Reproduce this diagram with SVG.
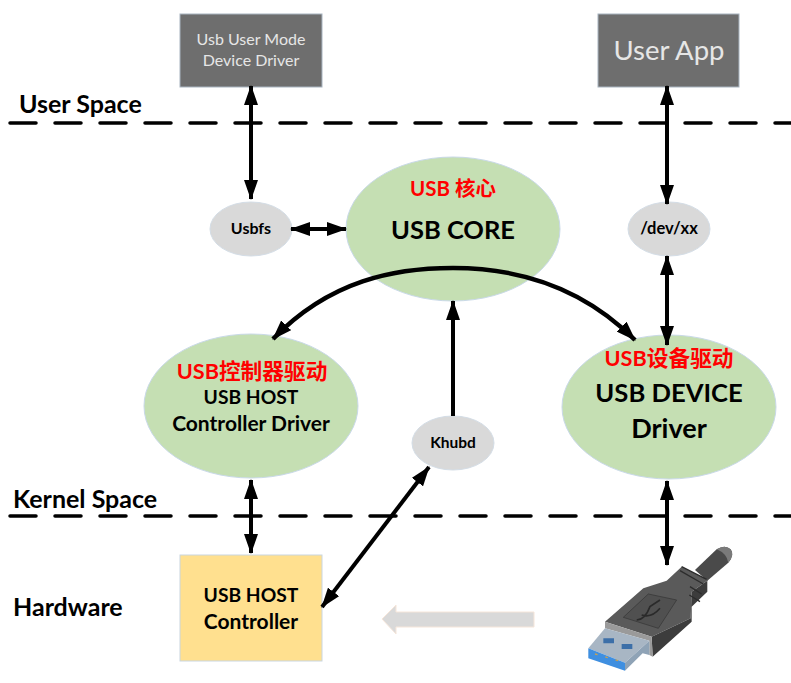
<svg xmlns="http://www.w3.org/2000/svg" width="791" height="683" viewBox="0 0 791 683">
<style>
text{font-family:Lato,"Liberation Sans","Noto Sans CJK SC",sans-serif;font-weight:700;text-anchor:middle;fill:#000}
.green{fill:#c5dfb3;stroke:#c9d9e8;stroke-width:1}
.grey{fill:#d9d9d9;stroke:#d4dde6;stroke-width:1}
.dark{fill:#6e6e6e;stroke:#a8b4c0;stroke-width:1}
.dash{fill:none;stroke:#000;stroke-width:3.5;stroke-linecap:round;stroke-dasharray:26 19}
.con{fill:none;stroke:#000;stroke-width:4;marker-end:url(#ah);marker-start:url(#ah)}
.one{fill:none;stroke:#000;stroke-width:4;marker-end:url(#ah)}
.red{fill:#f00;font-family:Lato,"Noto Sans CJK SC",sans-serif}
.side{font-size:25px;text-anchor:start}
.wht{fill:#e6e6e6;font-weight:400}
</style>
<defs>
<marker id="ah" markerUnits="userSpaceOnUse" markerWidth="20" markerHeight="14" refX="19" refY="7" orient="auto-start-reverse"><path d="M0 0L20 7L0 14Z" fill="#000"/></marker>
</defs>
<g id="user-mode"><rect class="dark" x="180" y="14" width="142" height="73"/><text class="wht" x="251" y="45" font-size="16">Usb User Mode</text><text class="wht" x="251" y="66" font-size="16">Device Driver</text></g>
<g id="user-app"><rect class="dark" x="598" y="14" width="141" height="73"/><text class="wht" x="669" y="60" font-size="27.5">User App</text></g>
<g id="label-user"><text class="side" x="19" y="113">User Space</text></g>
<g id="label-kernel"><text class="side" x="13" y="508">Kernel Space</text></g>
<g id="label-hw"><text class="side" x="13" y="616">Hardware</text></g>
<g id="usbfs"><ellipse class="grey" cx="251" cy="229" rx="41" ry="27"/><text x="251" y="234" font-size="16">Usbfs</text></g>
<g id="devxx"><ellipse class="grey" cx="669" cy="229" rx="41" ry="27"/><text x="669" y="234" font-size="16.5">/dev/xx</text></g>
<g id="core"><ellipse class="green" cx="453" cy="229" rx="107" ry="72"/><text class="red" x="453" y="196" font-size="20.5">USB 核心</text><text x="453" y="239" font-size="25.5">USB CORE</text></g>
<g id="host-driver"><ellipse class="green" cx="251" cy="406" rx="107" ry="72"/><text class="red" x="252" y="379" font-size="21.7">USB控制器驱动</text><text x="251" y="404" font-size="19.3">USB HOST</text><text x="251" y="431" font-size="21">Controller Driver</text></g>
<g id="device-driver"><ellipse class="green" cx="669" cy="407" rx="107" ry="72"/><text class="red" x="669" y="366" font-size="21.7">USB设备驱动</text><text x="669" y="402" font-size="25.6">USB DEVICE</text><text x="669" y="438" font-size="27">Driver</text></g>
<g id="khubd"><ellipse class="grey" cx="453" cy="443" rx="41" ry="27"/><text x="453" y="448" font-size="15.5">Khubd</text></g>
<g id="host-controller"><rect x="180" y="555" width="142" height="106" fill="#ffe08f" stroke="#c9d6e0"/><text x="251" y="602" font-size="19.3">USB HOST</text><text x="251" y="629" font-size="21">Controller</text></g>
<g id="flow-arrow"><path d="M534 612V627H396V634L382 619L396 605V612Z" fill="#d9d9d9" stroke="#f6e6da"/></g>
<g id="plug" transform="translate(570 520) scale(.3333)">
<path d="M375 150L440 88Q465 72 482 88Q495 105 475 128L412 182Z" fill="#4a4a4a"/>
<path d="M440 88Q465 72 482 88Q495 105 475 128Q470 100 440 88Z" fill="#7a7a7a"/>
<path d="M105 305L220 205L290 182L335 140L415 180L365 215L362 295L245 350Z" fill="#5a5a5a"/>
<path d="M245 350L362 295L365 215L412 182V215L365 260V305L248 410Z" fill="#3c3c3c"/>
<path d="M105 305L245 350L248 410L238 405V362L105 325Z" fill="#9a9a9a"/>
<path d="M335 140L410 178M330 152L400 192M360 200L395 222M358 225L390 245" stroke="#2c2c2c" stroke-width="4" fill="none"/>
<path d="M235 222L320 240L265 325L160 292Z" fill="#505050" stroke="#333" stroke-width="2"/>
<path d="M200 300Q225 300 240 260L270 240M215 285Q245 295 270 265" fill="none" stroke="#2a2a2a" stroke-width="5"/>
<path d="M55 385L105 325L238 362L165 428Z" fill="#a8b6c4"/>
<path d="M238 362V405L218 400L165 452L165 428Z" fill="#8fa3b6"/>
<path d="M55 385L165 428V452L55 415Z" fill="#3f8fe0"/>
<path d="M100 355h32v15h-32zM155 372h32v15h-32z" fill="#3c6fa8"/>
<path d="M75 402L155 425" stroke="#c9a050" stroke-width="4" stroke-dasharray="8 24" fill="none"/>
</g>
<g id="connectors">
<path class="dash" d="M10 123H791"/>
<path class="dash" d="M10 516H791"/>
<path class="con" d="M251 86V199"/>
<path class="con" d="M291 229H346"/>
<path class="con" d="M667 86V204"/>
<path class="con" d="M667 256V345"/>
<path class="con" d="M251 480V553"/>
<path class="con" d="M667 481V565"/>
<path class="one" d="M453 416V301"/>
<path class="con" style="stroke-width:4.5" d="M273 339C330 280 395 268 453 268C515 268 580 285 635 340"/>
<path class="con" d="M322 607L429 467"/>
</g>
</svg>
